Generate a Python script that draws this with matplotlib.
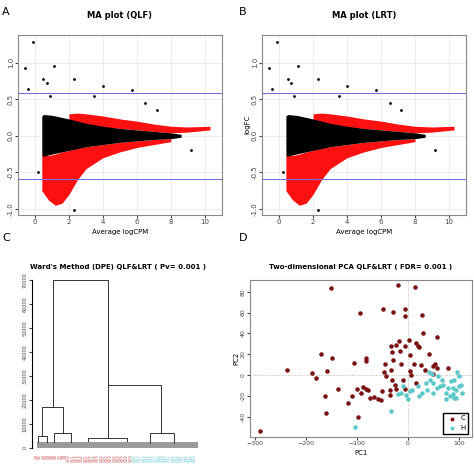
import matplotlib
matplotlib.use("Agg")
import matplotlib.pyplot as plt
import numpy as np

# MA plot envelopes
black_x = [0.4, 0.5, 1, 2, 3, 4, 5, 6, 7, 8, 8.6]
black_hi = [0.27, 0.29, 0.28, 0.23, 0.17, 0.13, 0.10, 0.08, 0.06, 0.04, 0.02]
black_lo = [-0.27, -0.28, -0.25, -0.20, -0.15, -0.12, -0.09, -0.07, -0.05, -0.04, -0.02]
redup_x = [2.0, 2.5, 3, 4, 5, 6, 7, 8, 9, 10.3]
redup_lo = [0.22, 0.18, 0.15, 0.12, 0.10, 0.08, 0.06, 0.04, 0.05, 0.08]
redup_hi = [0.30, 0.31, 0.30, 0.27, 0.23, 0.20, 0.16, 0.13, 0.12, 0.13]
reddn_x = [0.4, 0.8, 1.2, 1.6, 2.0, 2.5, 3, 4, 5, 6, 7, 8]
reddn_hi = [-0.27, -0.27, -0.25, -0.22, -0.20, -0.17, -0.15, -0.12, -0.09, -0.07, -0.05, -0.04]
reddn_lo = [-0.75, -0.88, -0.95, -0.92, -0.80, -0.60, -0.45, -0.30, -0.22, -0.16, -0.12, -0.08]
out_x = [-0.1, -0.6, 1.1, 0.5, 0.7, 2.3, 4.0, 5.7, -0.4, 0.9, 3.5, 9.2, 2.3, 0.2, 6.5, 7.2]
out_y = [1.28, 0.93, 0.95, 0.78, 0.72, 0.77, 0.68, 0.62, 0.64, 0.55, 0.55, -0.2, -1.02, -0.5, 0.45, 0.35]
blue_lines = [0.59, -0.59]

# Dendrogram merges: (x_left, x_right, height, h_left, h_right)
merges = [
    (10, 44, 70000, 17000, 26000),
    (3, 16, 17000, 5000, 6000),
    (44, 77, 26000, 4200, 6000),
    (1, 6, 5000, 2500, 2500),
    (10.5, 21, 6000, 2500, 2500),
    (32, 56, 4200, 3000, 3000),
    (70, 85, 6000, 2000, 2000),
]
leaf_colors = ["#c85a5a"] * 30 + ["#6cc8d0"] * 20

# PCA points
C_x = [-151, -20, 14, -94, -48, -29, -6, -5, 28, 30, 57, 3, -18, -23, -34, -5, 16, 19, 22, -31, -16, 4, 41,
       -170, -148, -83, -83, -105, -44, -30, -13, 12, 25, 50, 54, 58, 79, -238, -188, -159, -180, -46, -34,
       5, 33, 50, -43, -31, -9, 6, -138, -100, -88, -83, -79, -91, -50, -36, -23, -162, -110, -118, -75,
       -67, -58, -53, -35, -160, -98, -290, -25, -6, 16]
C_y = [83, 86, 84, 60, 63, 61, 63, 57, 58, 40, 37, 34, 33, 29, 28, 28, 31, 28, 27, 22, 23, 19, 20,
       20, 17, 17, 14, 12, 11, 15, 11, 11, 10, 9, 11, 7, 7, 5, 2, 4, -3, 3, 5,
       4, 5, 1, -1, -4, -4, 0, -13, -13, -11, -13, -14, -17, -15, -14, -13, -20, -20, -26, -22,
       -21, -23, -24, -19, -36, -40, -53, -9, -13, -7]
H_x = [-33, -104, -19, -3, 9, 19, 28, 38, 44, 50, 60, 63, 69, 75, 82, 85, 88, 91, 94, 97, 100, 104, 107,
       75, 94, 50, 22, -9, 4, 35, 57, 79, 88, 100, -13, 0, 41, 47, 66, 91]
H_y = [-34, -49, -18, -19, -14, -10, -17, -14, -4, -7, -1, -10, -9, -17, -20, -5, -12, -4, -14, 3, -1, -9, -17,
       -23, -22, -17, -20, -10, -15, -7, -12, -12, -18, -10, -17, -23, 3, 1, -4, -22]

fig = plt.figure(figsize=(4.74, 4.70), dpi=100)

def ma(ax, title, ylabel):
    ax.fill_between(reddn_x, reddn_lo, reddn_hi, color="#ff1010", lw=0, zorder=2)
    ax.fill_between(redup_x, redup_lo, redup_hi, color="#ff1010", lw=0, zorder=2)
    ax.fill_between(black_x, black_lo, black_hi, color="black", lw=0, zorder=3)
    ax.scatter(out_x, out_y, s=1, c="black", zorder=3)
    for b in blue_lines:
        ax.axhline(b, color="#7070e0", lw=0.8, zorder=4)
    ax.set_xlim(-1, 11)
    ax.set_ylim(-1.08, 1.38)
    ax.set_xticks([0, 2, 4, 6, 8, 10])
    ax.set_yticks([-1.0, -0.5, 0.0, 0.5, 1.0])
    ax.set_yticklabels(["-1.0", "-0.5", "0.0", "0.5", "1.0"], rotation=90, va="center")
    ax.grid(color="#e6e6e6", lw=0.5)
    ax.set_axisbelow(True)
    ax.tick_params(labelsize=5, length=2, pad=1, colors="#444444")
    for s in ax.spines.values():
        s.set_color("#888888")
    ax.set_title(title, fontsize=6, fontweight="bold", pad=12)
    ax.set_xlabel("Average logCPM", fontsize=5, labelpad=3)
    if ylabel:
        ax.set_ylabel(ylabel, fontsize=5, labelpad=1)

axA = fig.add_axes([0.038, 0.543, 0.430, 0.383])
ma(axA, "MA plot (QLF)", None)
axB = fig.add_axes([0.553, 0.543, 0.430, 0.383])
ma(axB, "MA plot (LRT)", "logFC")

# Dendrogram
axC = fig.add_axes([0.0675, 0.047, 0.361, 0.368])
for xl, xr, h, hl, hr in merges:
    axC.plot([xl, xl, xr, xr], [hl, h, h, hr], color="#333333", lw=0.7)
axC.fill_between([0, 100], 0, 2500, color="#9a9a9a", lw=0)
for i, c in enumerate(leaf_colors):
    axC.text(i * 2, -2500, "S%d" % i, rotation=90, fontsize=3, color=c, ha="center", va="top")
axC.set_xlim(-3, 103)
axC.set_ylim(0, 72000)
axC.set_xticks([])
axC.set_yticks([0, 10000, 20000, 30000, 40000, 50000, 60000, 70000])
axC.set_yticklabels(["0", "10000", "20000", "30000", "40000", "50000", "60000", "70000"], rotation=90, va="center")
axC.tick_params(labelsize=3.5, length=2, pad=1, colors="#444444")
for s in ["top", "right", "bottom"]:
    axC.spines[s].set_visible(False)
axC.spines["left"].set_bounds(0, 70000)
axC.set_title("Ward's Method (DPE) QLF&LRT ( Pv= 0.001 )", fontsize=5, fontweight="bold", pad=4)

# PCA
axD = fig.add_axes([0.527, 0.070, 0.468, 0.334])
axD.axhline(0, color="#aaaaaa", lw=0.6, ls=":")
axD.axvline(0, color="#aaaaaa", lw=0.6, ls=":")
axD.scatter(C_x, C_y, s=5, c="#7a1010", label="C", zorder=3)
axD.scatter(H_x, H_y, s=5, c="#5cc8c8", label="H", zorder=3)
axD.set_xlim(-310, 125)
axD.set_ylim(-59, 91)
axD.set_xticks([-300, -200, -100, 0, 100])
axD.set_yticks([-40, -20, 0, 20, 40, 60, 80])
axD.set_yticklabels(["-40", "-20", "0", "20", "40", "60", "80"], rotation=90, va="center")
axD.tick_params(labelsize=4.5, length=2, pad=1, colors="#444444")
for s in axD.spines.values():
    s.set_color("#888888")
axD.set_xlabel("PC1", fontsize=5, labelpad=3)
axD.set_ylabel("PC2", fontsize=5, labelpad=1)
axD.set_title("Two-dimensional PCA QLF&LRT ( FDR= 0.001 )", fontsize=5, fontweight="bold", pad=8)
axD.legend(loc="lower right", fontsize=5, markerscale=0.8, handletextpad=0.1, borderpad=0.4,
           fancybox=False, edgecolor="black", framealpha=1)

for lbl, x, y in [("A", 0.005, 0.985), ("B", 0.505, 0.985), ("C", 0.005, 0.505), ("D", 0.505, 0.505)]:
    fig.text(x, y, lbl, fontsize=8, va="top", ha="left")

fig.savefig("out.png", dpi=100)
